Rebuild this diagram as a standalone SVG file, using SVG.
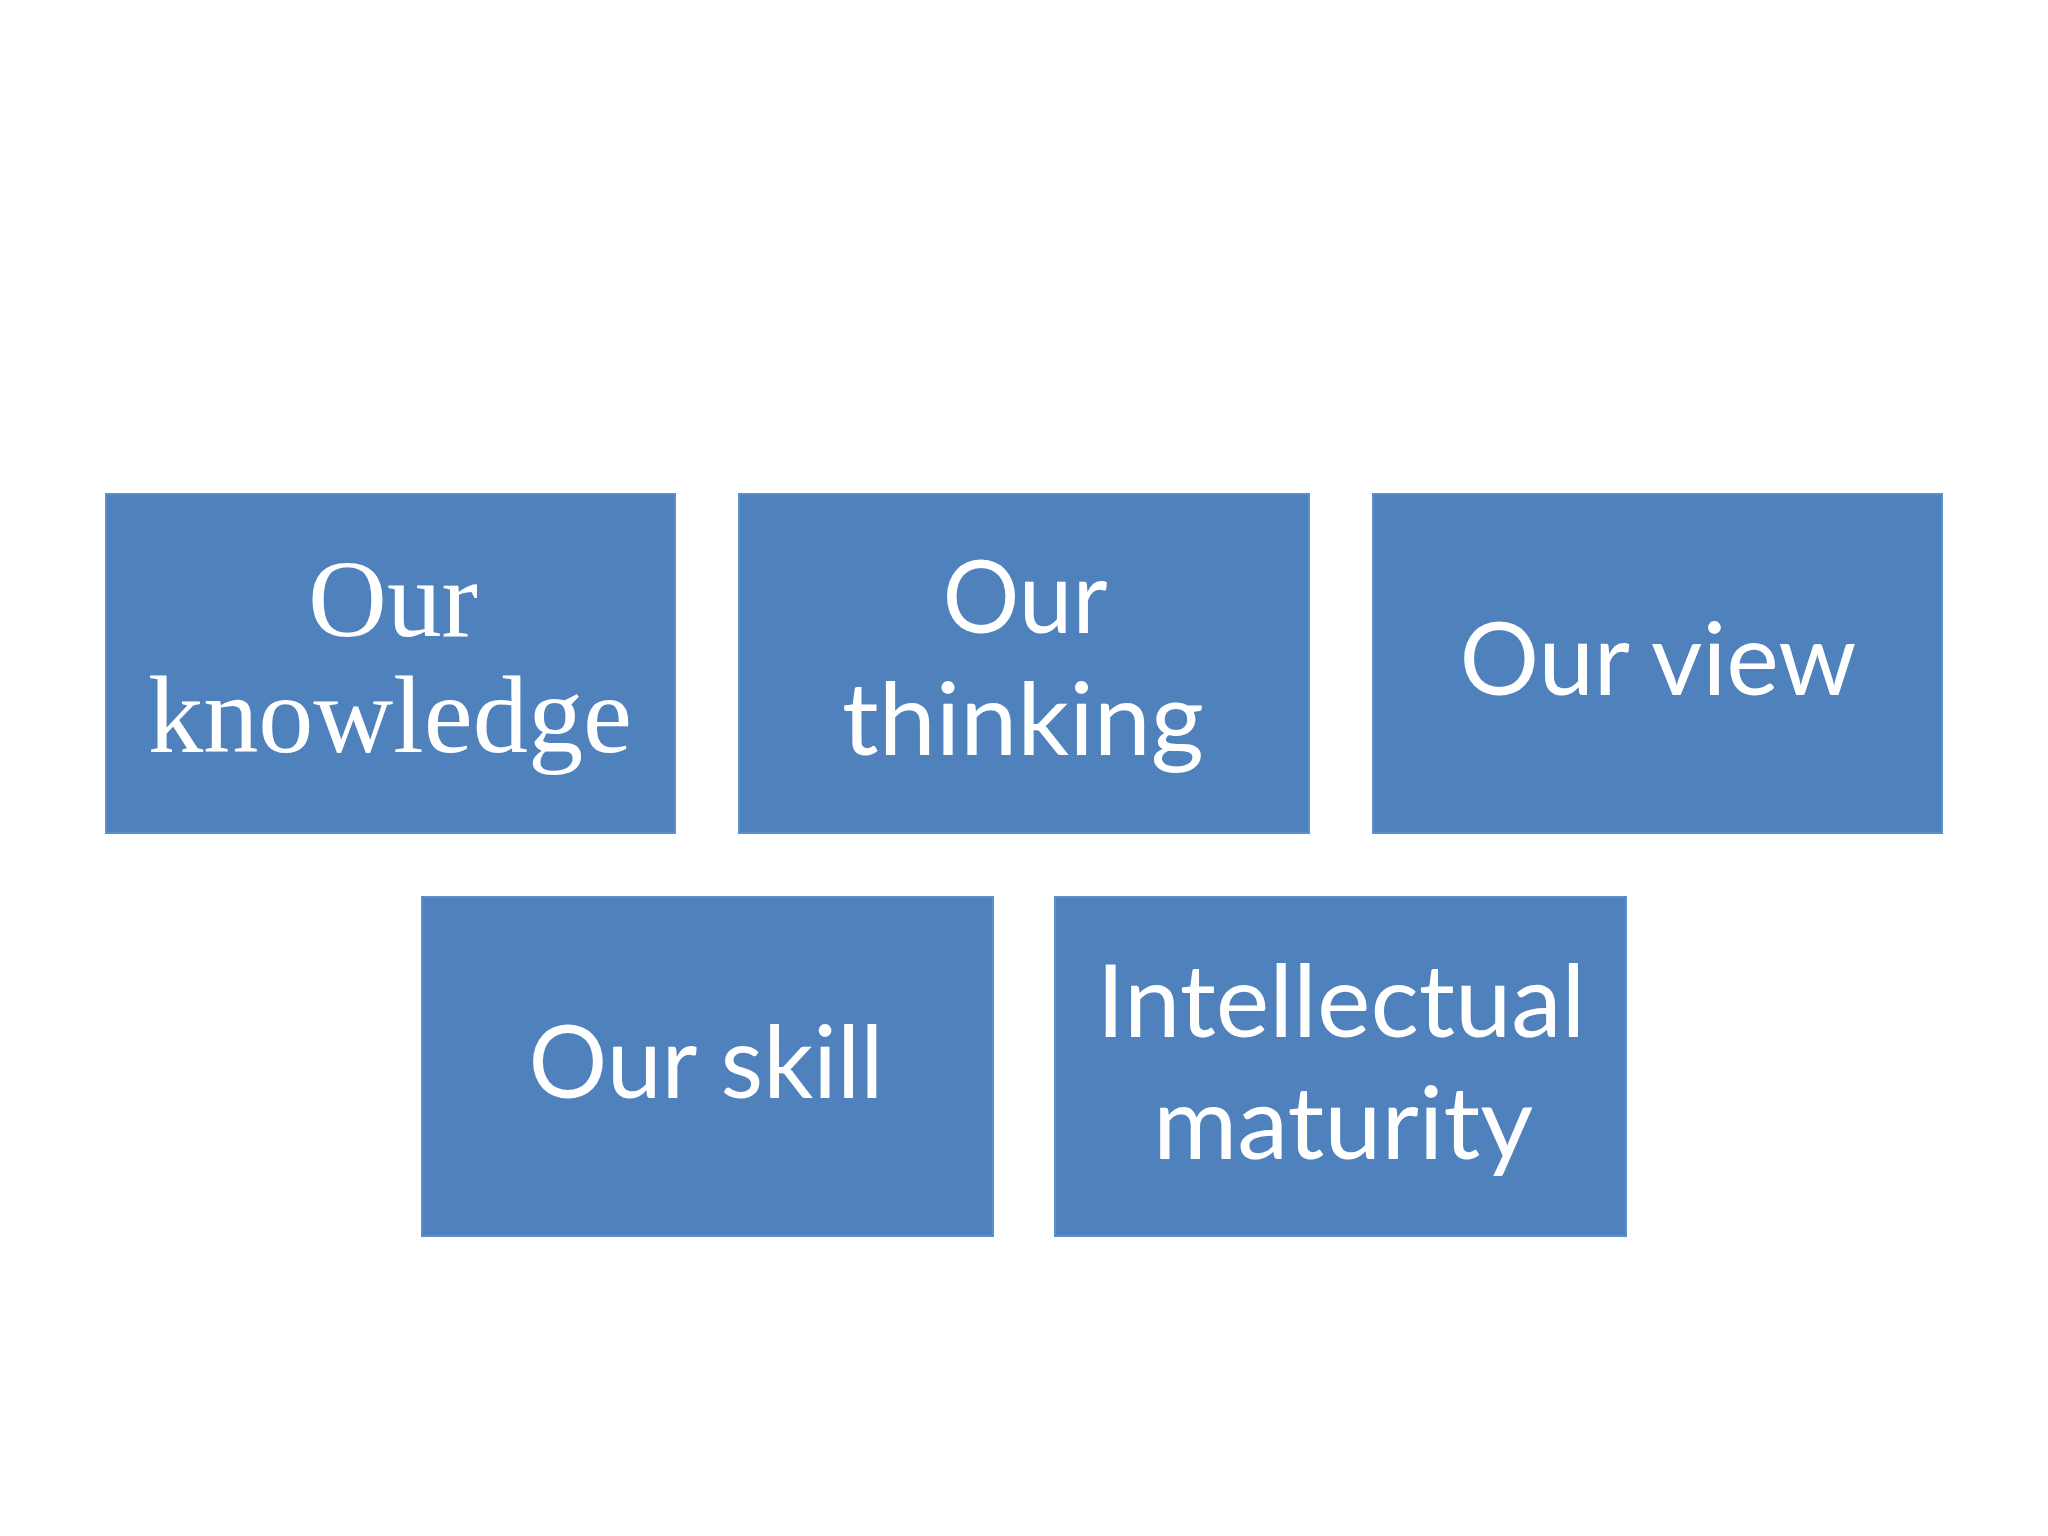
<svg xmlns="http://www.w3.org/2000/svg" width="2048" height="1536" viewBox="0 0 2048 1536">
<style>
.box{fill:#4F81BD;stroke:#5B8ED0;stroke-width:2}
.sans{font-family:Lato,"Noto Sans",sans-serif;font-size:100px;fill:#FFFFFF;text-anchor:middle}
.serif{font-family:"Liberation Serif","Times New Roman",serif;font-size:110px;fill:#FFFFFF;text-anchor:middle}
</style>
<rect width="2048" height="1536" fill="#FFFFFF"/>
<g id="connectors"></g>
<g id="node-knowledge">
<rect class="box" x="106" y="494" width="569" height="339"/>
<text class="serif" x="393" y="636" textLength="170" lengthAdjust="spacingAndGlyphs">Our</text>
<text class="serif" x="390" y="752" textLength="484" lengthAdjust="spacingAndGlyphs">knowledge</text>
</g>
<g id="node-thinking">
<rect class="box" x="739" y="494" width="570" height="339"/>
<text class="sans" x="1025" y="633" textLength="165" lengthAdjust="spacingAndGlyphs">Our</text>
<text class="sans" x="1023" y="755" textLength="362" lengthAdjust="spacingAndGlyphs">thinking</text>
</g>
<g id="node-view">
<rect class="box" x="1373" y="494" width="569" height="339"/>
<text class="sans" x="1658" y="695" textLength="397" lengthAdjust="spacingAndGlyphs">Our view</text>
</g>
<g id="node-skill">
<rect class="box" x="422" y="897" width="571" height="339"/>
<text class="sans" x="706" y="1098" textLength="355" lengthAdjust="spacingAndGlyphs">Our skill</text>
</g>
<g id="node-maturity">
<rect class="box" x="1055" y="897" width="571" height="339"/>
<text class="sans" x="1341" y="1037" textLength="489" lengthAdjust="spacingAndGlyphs">Intellectual</text>
<text class="sans" x="1343" y="1159" textLength="380" lengthAdjust="spacingAndGlyphs">maturity</text>
</g>
</svg>
